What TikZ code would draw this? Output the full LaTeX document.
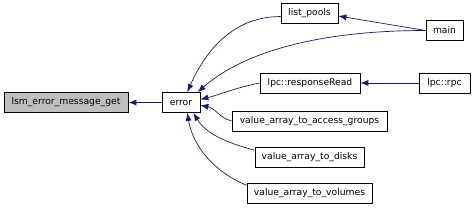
\documentclass[tikz,border=0pt]{standalone}
\usepackage{fontspec}
\setmainfont{DejaVu Sans}
\usetikzlibrary{arrows.meta}
\definecolor{EdgeColor}{RGB}{25,25,112}
\definecolor{RootFill}{RGB}{191,191,191}

\begin{document}
\begin{tikzpicture}[x=1pt, y=-1pt, font=\fontsize{9.2}{10}\selectfont,
    fn/.style={draw=black, fill=white, minimum height=20pt, inner sep=0pt, line width=0.8pt},
    call/.style={EdgeColor, line width=0.7pt, -{Latex[length=8pt,width=6pt]}}]
  \useasboundingbox (0,0) rectangle (474,207);
  % functions
  \node[fn, fill=RootFill, minimum width=124pt] (lsm) at (66,102.5) {lsm\_error\_message\_get};
  \node[fn, minimum width=38pt] (error) at (181,102.5) {error};
  \node[fn, minimum width=57pt] (list_pools) at (309.5,13.5) {list\_pools};
  \node[fn, minimum width=37pt] (main) at (444.5,30.5) {main};
  \node[fn, minimum width=100pt] (responseRead) at (310,83) {lpc::responseRead};
  \node[fn, minimum width=51pt] (rpc) at (444.5,83) {lpc::rpc};
  \node[fn, minimum width=155pt] (access_groups) at (309.5,121) {value\_array\_to\_access\_groups};
  \node[fn, minimum width=109pt] (disks) at (309.5,157) {value\_array\_to\_disks};
  \node[fn, minimum width=125pt] (volumes) at (309.5,193) {value\_array\_to\_volumes};
  % calls
  \draw[call] (error.west) -- (lsm.east);
  \draw[call] (list_pools.186) .. controls +(-45,0) and +(20,-45) .. (error.59);
  \draw[call] (main.west) .. controls +(-120,0) and +(40,-35) .. (error.32);
  \draw[call] (responseRead.west) .. controls +(-25,5) and +(20,-5) .. (error.9);
  \draw[call] (access_groups.west) .. controls +(-12,-3) and +(15,3) .. (error.-8);
  \draw[call] (disks.173) .. controls +(-30,-8) and +(12,20) .. (error.-40);
  \draw[call] (volumes.173) .. controls +(-30,-12) and +(6,35) .. (error.-59);
  \draw[call] (main.west) -- (list_pools.-5);
  \draw[call] (rpc.west) -- (responseRead.east);
\end{tikzpicture}
\end{document}
